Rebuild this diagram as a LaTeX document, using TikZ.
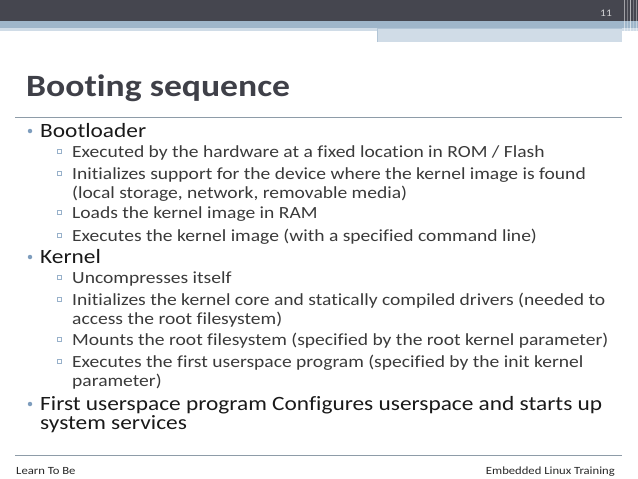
\documentclass[tikz,border=0pt]{standalone}
\usepackage{fontspec}
\setmainfont{Carlito}[Ligatures={NoCommon},FakeStretch=1.15]
\usepackage{xcolor}
\usetikzlibrary{positioning}
\definecolor{bargray}{HTML}{45464F}
\definecolor{bandblue}{HTML}{9FB6CA}
\definecolor{paleblue}{HTML}{D0DCE7}
\definecolor{titlegray}{HTML}{3F4048}
\definecolor{textgray}{HTML}{3A3A3A}
\definecolor{dotblue}{HTML}{7E9DBD}
\definecolor{rulegray}{HTML}{8E9CA8}

\begin{document}
\begin{tikzpicture}[x=1pt,y=-1pt]

			\tikzstyle{itemone} = [anchor=base west,inner sep=0pt,font=\fontsize{20.3}{24}\selectfont,text=black!90]
			\tikzstyle{itemtwo} = [anchor=base west,inner sep=0pt,font=\fontsize{17}{19}\selectfont,text=textgray]
			\tikzstyle{dotmark} = [circle,fill=dotblue,inner sep=0pt,minimum size=4.5pt]
			\tikzstyle{sqmark} = [draw=dotblue!80,line width=0.6pt,inner sep=0pt,minimum size=4pt]

			\useasboundingbox (0,0) rectangle (638,479);

			% header bars
			\fill[bargray] (0,0) rectangle (638,21);
			\fill[bandblue] (0,21) rectangle (638,28);
			\fill[paleblue] (0,28) rectangle (638,31);
			\fill[paleblue] (377,28) rectangle (622,42);
			\draw[bandblue!60!paleblue,line width=0.6pt] (377,42) -- (377,28.5) -- (622,28.5);
			\foreach \xx/\op in {624/0.5,627/0.3,630/0.6,633/0.25,636/0.4}
				\draw[white,opacity=\op,line width=1pt] (\xx,0) -- (\xx,42);
			\node[text=white!75!bargray,font=\fontsize{10}{12}\selectfont] (pagenum) at (606,13) {11};

			% title
			\node[anchor=base west,inner sep=0pt,text=titlegray,font=\fontsize{31}{37}\bfseries] (title) at (26,96) {Booting sequence};
			\draw[rulegray,line width=0.8pt] (15,117) -- (622,117);

			% bootloader
			\node[dotmark] (d1) at (30,131) {};
			\node[itemone] (boot) at (40,137) {Bootloader};
			\node[sqmark] (s1) at (59,151) {};
			\node[itemtwo] (b1) at (72,157) {Executed by the hardware at a fixed location in ROM / Flash};
			\node[sqmark] (s2) at (59,173) {};
			\node[itemtwo] (b2) at (72,179) {Initializes support for the device where the kernel image is found};
			\node[itemtwo] (b2b) at (72,198) {(local storage, network, removable media)};
			\node[sqmark] (s3) at (59,212) {};
			\node[itemtwo] (b3) at (72,218) {Loads the kernel image in RAM};
			\node[sqmark] (s4) at (59,235) {};
			\node[itemtwo] (b4) at (72,241) {Executes the kernel image (with a specified command line)};

			% kernel
			\node[dotmark] (d2) at (30,257) {};
			\node[itemone] (kern) at (40,263) {Kernel};
			\node[sqmark] (s5) at (59,277) {};
			\node[itemtwo] (k1) at (72,283) {Uncompresses itself};
			\node[sqmark] (s6) at (59,299) {};
			\node[itemtwo] (k2) at (72,305) {Initializes the kernel core and statically compiled drivers (needed to};
			\node[itemtwo] (k2b) at (72,324) {access the root filesystem)};
			\node[sqmark] (s7) at (59,339) {};
			\node[itemtwo] (k3) at (72,345) {Mounts the root filesystem (specified by the root kernel parameter)};
			\node[sqmark] (s8) at (59,361) {};
			\node[itemtwo] (k4) at (72,367) {Executes the first userspace program (specified by the init kernel};
			\node[itemtwo] (k4b) at (72,386) {parameter)};

			% userspace
			\node[dotmark] (d3) at (30,404) {};
			\node[itemone] (user) at (40,410) {First userspace program Configures userspace and starts up};
			\node[itemone] (userb) at (40,429) {system services};

			% footer
			\draw[rulegray,line width=0.8pt] (15,455) -- (622,455);
			\node[anchor=base west,inner sep=0pt,font=\fontsize{11}{13}\selectfont,text=black!85] (foot1) at (16,474) {Learn To Be};
			\node[anchor=base east,inner sep=0pt,font=\fontsize{11}{13}\selectfont,text=black!85] (foot2) at (615,474) {Embedded Linux Training};
		\end{tikzpicture}
\end{document}
